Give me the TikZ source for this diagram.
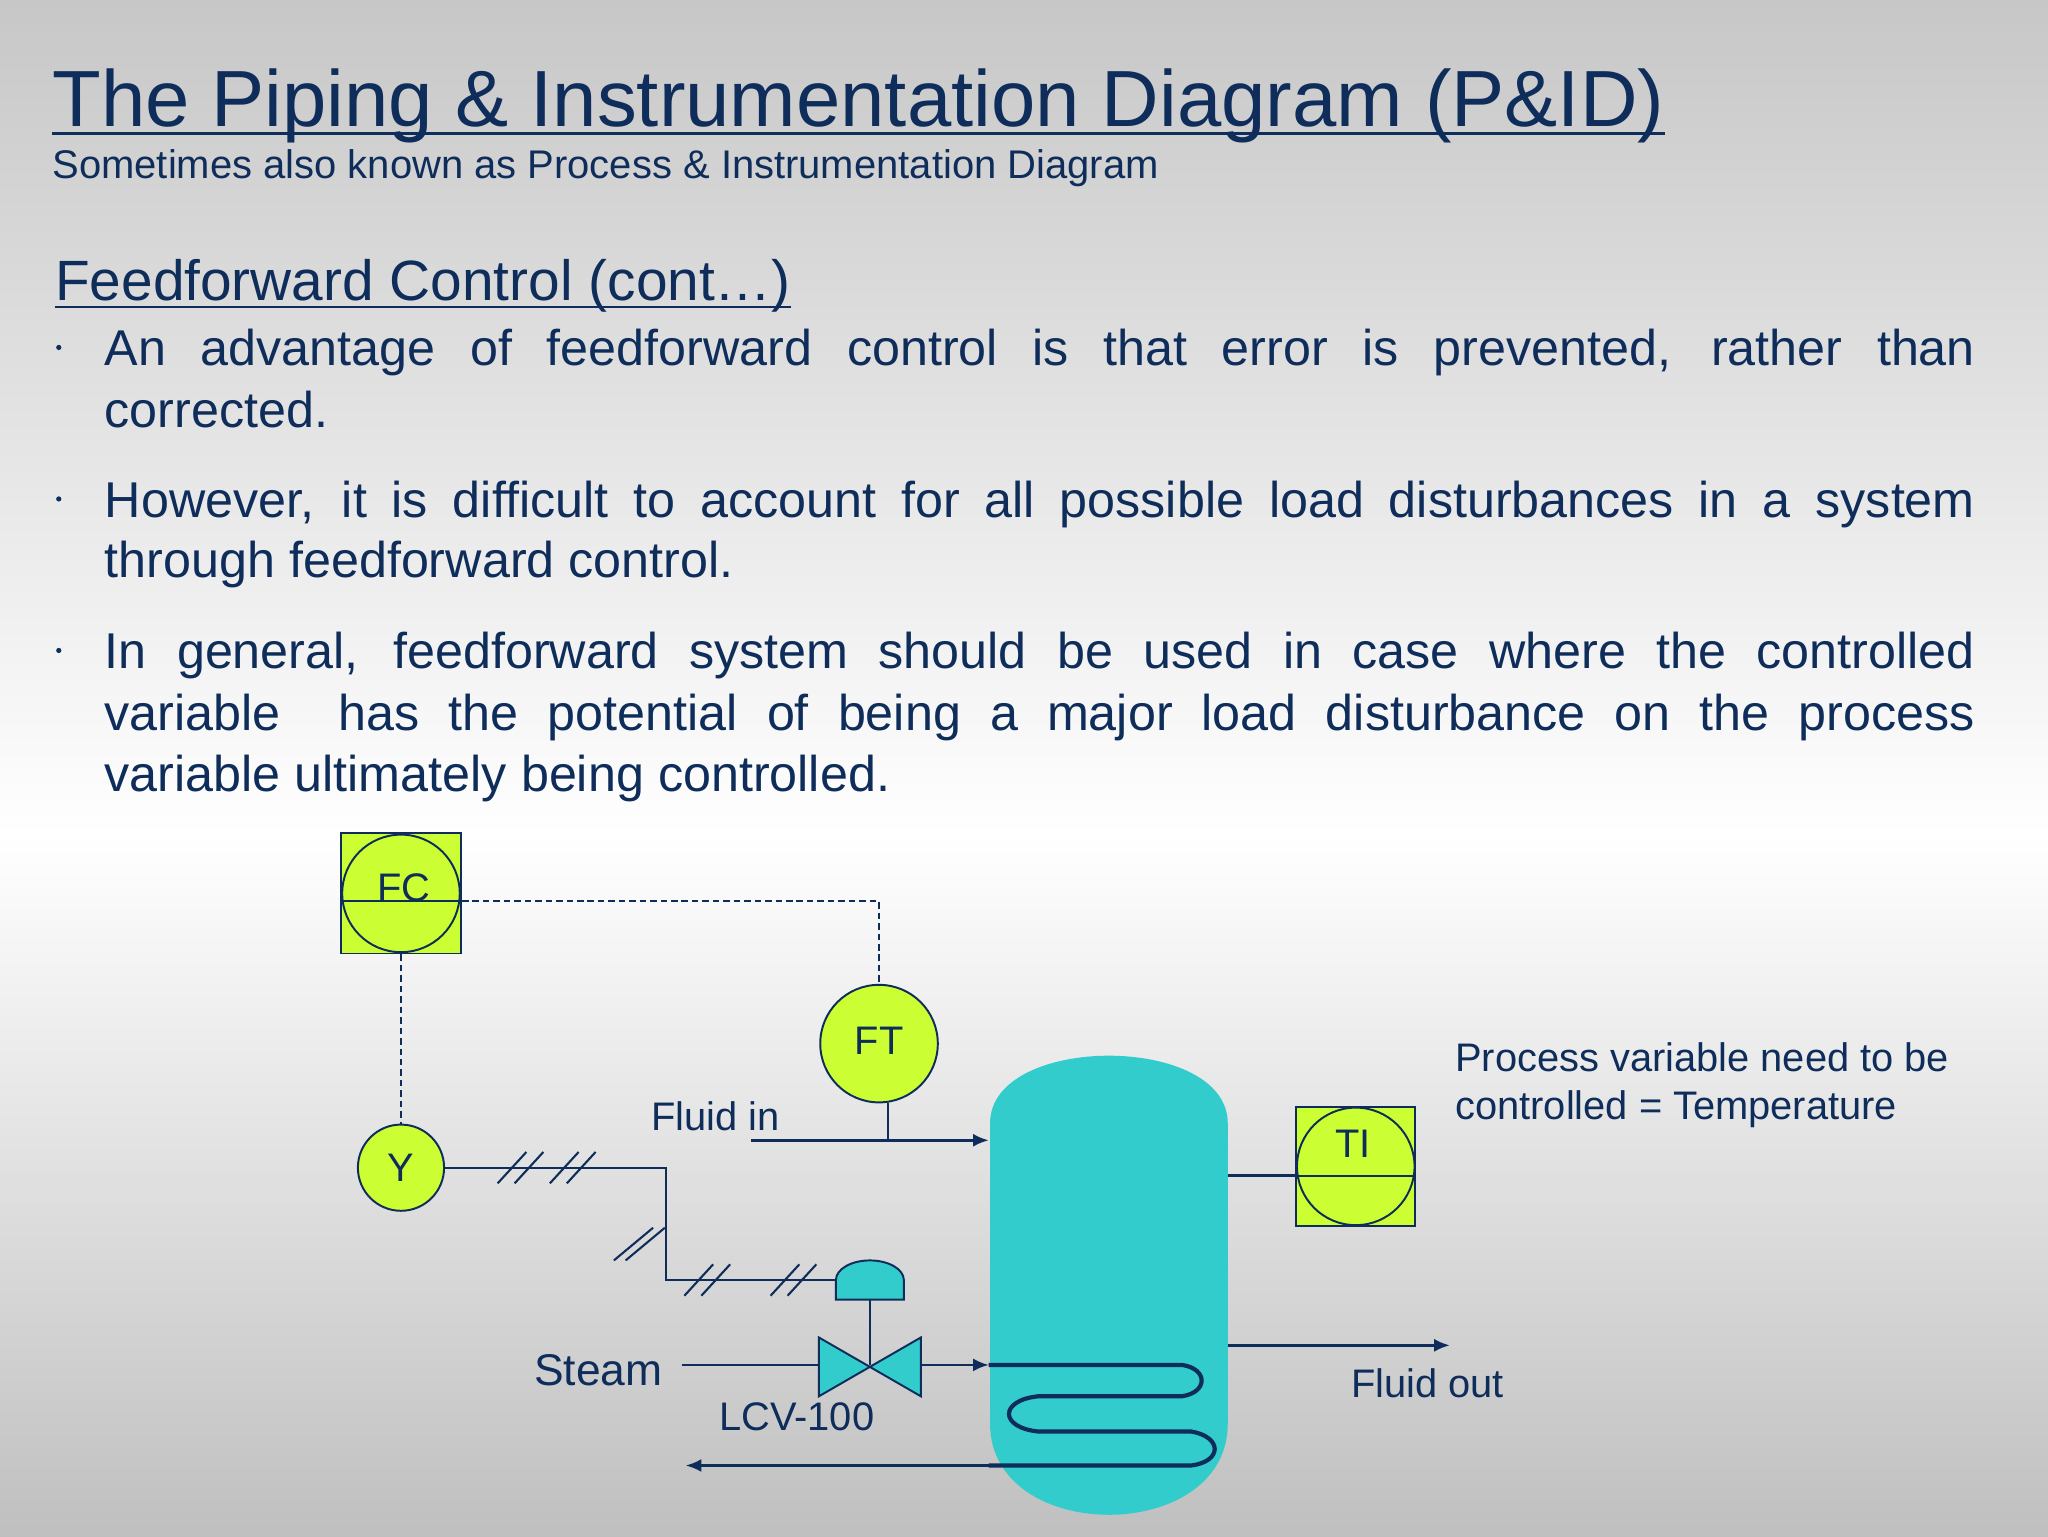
\documentclass[tikz,border=0pt]{standalone}
\usepackage{fontspec}
\setmainfont{Liberation Sans}
\usetikzlibrary{arrows.meta,shapes.geometric}
\definecolor{navy}{RGB}{15,45,90}
\definecolor{lime}{RGB}{204,255,51}
\definecolor{teal}{RGB}{51,204,204}
\newcommand{\fs}[1]{\fontsize{#1}{#1}\selectfont}
\begin{document}
\begin{tikzpicture}[x=1pt,y=-1pt,
  txt/.style={inner sep=0pt,text=navy,font=\fs{30.5}},
  bl/.style={inner sep=0pt,text=navy,anchor=base west,font=\fs{38.5}},
  pipe/.style={draw=navy,line width=2pt},
  arr/.style={pipe,-{Latex[length=12pt,width=10pt]}},
  sig/.style={draw=navy,line width=1.4pt,dash pattern=on 5pt off 3pt},
  inst/.style={ellipse,draw=navy,line width=1.5pt,fill=lime,minimum width=90pt,minimum height=90pt,inner sep=0pt},
  hash/.style={draw=navy,line width=1.6pt}]
\useasboundingbox (0,0) rectangle (1568,1176);
\shade[top color=black!22,bottom color=white] (0,0) rectangle (1568,640);
\shade[top color=white,bottom color=black!25] (0,640) rectangle (1568,1176);
% title
\node[txt,anchor=base west,font=\fs{61}] (title) at (40,97) {The Piping \& Instrumentation Diagram (P\&ID)};
\draw[navy,line width=2.5pt] (title.south west|-0,102) -- (title.south east|-0,102);
\node[txt,anchor=base west,font=\fs{30.6}] (sub) at (40,137) {Sometimes also known as Process \& Instrumentation Diagram};
\node[txt,anchor=base west,font=\fs{43.5}] (head) at (42,230) {Feedforward Control (cont…)};
\draw[navy,line width=2pt] (head.south west|-0,235) -- (head.south east|-0,235);
% bullets
\foreach \y in {266,382,498}{\fill[navy] (45,\y) circle (2);}
\node[bl] (b1a) at (80,280) {\makebox[1432pt][s]{An advantage of feedforward control is that error is prevented, rather than}};
\node[bl] (b1b) at (80,327) {corrected.};
\node[bl] (b2a) at (80,396) {\makebox[1432pt][s]{However, it is difficult to account for all possible load disturbances in a system}};
\node[bl] (b2b) at (80,442) {through feedforward control.};
\node[bl] (b3a) at (80,512) {\makebox[1432pt][s]{In general, feedforward system should be used in case where the controlled}};
\node[bl] (b3b) at (80,559) {\makebox[1432pt][s]{variable \ has the potential of being a major load disturbance on the process}};
\node[bl] (b3c) at (80,606) {variable ultimately being controlled.};
% tank
\fill[teal] (758,860) .. controls (758,791) and (940,791) .. (940,860) -- (940,1090) .. controls (940,1183) and (758,1183) .. (758,1090) -- cycle;
\coordinate (tankL1) at (757,873);
\coordinate (tankL2) at (757,1045);
% FC
\node[draw=navy,line width=1.5pt,fill=lime,minimum size=92pt,inner sep=0pt] (fcbox) at (307,684) {};
\node[inst] (FC) at (307,684) {};
\draw[navy,line width=1.5pt] (fcbox.west|-0,690) -- (fcbox.east|-0,690);
\node[txt] at (309,680) {FC};
% FT
\node[inst] (FT) at (673,799) {};
\node[txt] at (673,797) {FT};
% Y
\node[inst,minimum width=66pt,minimum height=66pt] (Y) at (307,894) {};
\node[txt] at (307,894) {Y};
% TI
\node[draw=navy,line width=1.5pt,fill=lime,minimum size=91pt,inner sep=0pt] (tibox) at (1038,893) {};
\node[inst] (TI) at (1038,893) {};
\draw[navy,line width=1.5pt] (tibox.west|-0,900) -- (tibox.east|-0,900);
\node[txt] at (1036,876) {TI};
% signals
\draw[sig] (fcbox.east|-0,690) -| (FT.north);
\draw[sig] (fcbox.south) -- (Y.north);
\coordinate (act) at (640,980);
\draw[navy,line width=1.6pt] (Y.east) -- (510,894) -- (510,980) -- (act);
\foreach \x in {392,405,432,445}{\draw[hash] (\x-11,906) -- (\x+11,882);}
\foreach \x in {535,548,601,614}{\draw[hash] (\x-11,992) -- (\x+11,968);}
\draw[hash] (470,965) -- (500,940);
\draw[hash] (479,965) -- (509,940);
% actuator and valve
\filldraw[fill=teal,draw=navy,line width=1.5pt] (640,995) -- (640,980) arc[start angle=180,end angle=0,x radius=26pt,y radius=15pt] -- (692,995) -- cycle;
\node[inner sep=0pt] (V) at (666,1046) {};
\draw[navy,line width=1.6pt] (666,995) -- (V);
\filldraw[fill=teal,draw=navy,line width=1.5pt] (627,1024) -- (705,1069) -- (705,1024) -- (627,1069) -- cycle;
% pipes
\draw[navy,line width=1.6pt] (FT.south) ++(7,0) -- (680,873);
\draw[arr] (575,873) -- (tankL1);
\node[txt] at (548,855) {Fluid in};
\draw[pipe] (522,1045) -- (627,1045);
\draw[arr] (705,1045) -- (tankL2);
\node[txt,font=\fs{34}] at (458,1049) {Steam};
\node[txt] at (610,1085) {LCV-100};
\draw[navy,line width=3.2pt] (tankL2) -- (905,1045) .. controls (925,1048) and (925,1066) .. (905,1069) -- (795,1069) .. controls (765,1072) and (765,1093) .. (795,1096) -- (912,1096) .. controls (936,1100) and (936,1119) .. (912,1122) -- (757,1122);
\draw[arr] (757,1122) -- (525,1122);
\draw[navy,line width=1.6pt] (940,900) -- (tibox.west|-0,900);
\draw[arr] (940,1030) -- (1110,1030);
\node[txt] at (1093,1059) {Fluid out};
\node[txt,anchor=base west] at (1114,820) {Process variable need to be};
\node[txt,anchor=base west] at (1114,857) {controlled = Temperature};
\end{tikzpicture}
\end{document}
